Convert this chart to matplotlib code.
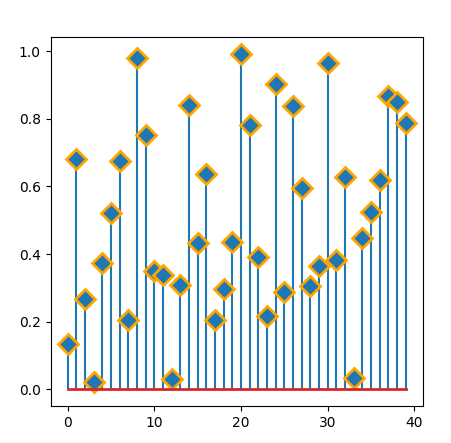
import numpy as np
import matplotlib
matplotlib.use("Agg")
import matplotlib.pyplot as plt

# stem heights
x = np.arange(40)
y = [0.135, 0.680, 0.266, 0.020, 0.374, 0.522, 0.674, 0.204, 0.980, 0.753,
     0.350, 0.339, 0.030, 0.307, 0.841, 0.433, 0.637, 0.206, 0.298, 0.437,
     0.992, 0.782, 0.390, 0.216, 0.903, 0.288, 0.839, 0.596, 0.305, 0.366,
     0.964, 0.381, 0.628, 0.032, 0.447, 0.523, 0.618, 0.869, 0.849, 0.788]

fig = plt.figure(figsize=(4.52, 4.43), dpi=100)
ax = fig.add_axes([0.112, 0.0835, 0.823, 0.8325])

markerline, stemlines, baseline = ax.stem(x, y)
plt.setp(markerline, marker="D", markersize=10, markeredgecolor="orange",
         markeredgewidth=2, markerfacecolor="C0")
plt.setp(baseline, color="C3", linewidth=2)

fig.savefig("out.png", dpi=100)
